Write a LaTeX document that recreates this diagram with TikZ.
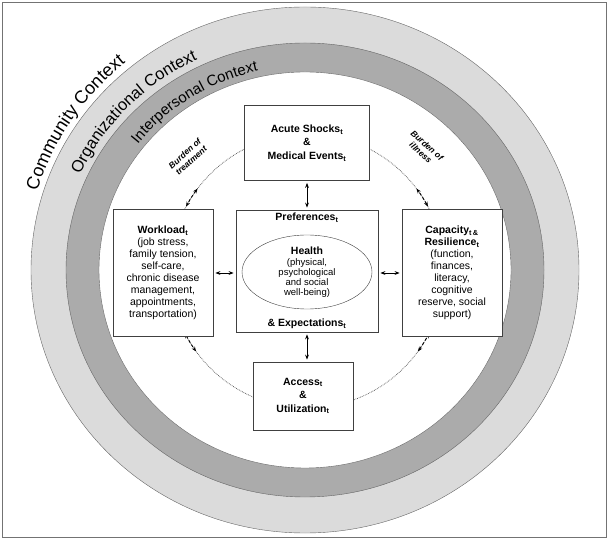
\documentclass[tikz,border=0pt]{standalone}
\usepackage{fontspec}
\setmainfont{Liberation Sans}
\usetikzlibrary{decorations.text,arrows.meta,shapes.geometric}
\begin{document}
\begin{tikzpicture}[x=1pt,y=1pt,
  box/.style={draw=black!75,fill=white,line width=0.7pt,align=center,font=\fontsize{10.5}{13.5}\selectfont},
  dbl/.style={{Stealth[length=5pt]}-{Stealth[length=5pt]},line width=0.9pt},
  dashdbl/.style={{Stealth[length=5pt]}-{Stealth[length=5pt]},line width=0.9pt,densely dashed},
  burden/.style={font=\bfseries\itshape\fontsize{8.5}{9.5}\selectfont,align=center}]
\useasboundingbox (0,0) rectangle (609,540);
\node[draw=black!55,line width=0.8pt,minimum width=604pt,minimum height=535pt] (frame) at (304.5,270) {};
\coordinate (c) at (305,270);
\fill[black!14,draw=black!60] (c) ellipse [x radius=274,y radius=263];
\fill[black!33,draw=black!60] (c) ellipse [x radius=239,y radius=227];
\fill[white,draw=black!60] (c) ellipse [x radius=206,y radius=198];
\path[decorate,decoration={text along path,text={|\fontsize{18}{18}\selectfont|Community Context},text align=left}]
  (c) ++(163:280 and 270) arc [start angle=163,end angle=90,x radius=280,y radius=270];
\path[decorate,decoration={text along path,text={|\fontsize{16.5}{16.5}\selectfont|Organizational Context},text align=left}]
  (c) ++(156:246 and 234) arc [start angle=156,end angle=60,x radius=246,y radius=234];
\path[decorate,decoration={text along path,text={|\fontsize{15}{15}\selectfont|Interpersonal Context},text align=left}]
  (c) ++(142:212 and 204) arc [start angle=142,end angle=50,x radius=212,y radius=204];
\coordinate (m) at (307,269);
\draw[black!70,densely dotted,line width=0.7pt] (m) circle [radius=137];
\draw[dashdbl] (m) ++(143:137) arc [start angle=143,end angle=152,radius=137];
\draw[dashdbl] (m) ++(28:137) arc [start angle=28,end angle=37,radius=137];
\draw[dashdbl] (m) ++(207:137) arc [start angle=207,end angle=216,radius=137];
\draw[dashdbl] (m) ++(324:137) arc [start angle=324,end angle=333,radius=137];
\node[burden,rotate=42] (bt) at (188,383) {Burden of\\treatment};
\node[burden,rotate=-42] (bi) at (424,391) {Burden of\\illness};
\node[box,minimum width=125pt,minimum height=75pt] (acute) at (307,397) {\textbf{Acute Shocks\textsubscript{t}}\\\textbf{\&}\\\textbf{Medical Events\textsubscript{t}}};
\node[box,minimum width=142pt,minimum height=122pt] (center) at (307,269) {};
\node[box,anchor=north,draw=none,fill=none] (pref) at (center.north) {\textbf{Preferences\textsubscript{t}}};
\node[box,anchor=south,draw=none,fill=none] (expe) at (center.south) {\textbf{\& Expectations\textsubscript{t}}};
\node[draw=black!75,fill=white,ellipse,minimum width=130pt,minimum height=74pt,inner sep=0pt,align=center,font=\fontsize{10.5}{12}\selectfont] (health) at (307,268) {\textbf{Health}\\[-1pt]{\fontsize{9.5}{11}\selectfont (physical,}\\[-2pt]{\fontsize{9.5}{11}\selectfont psychological}\\[-2pt]{\fontsize{9.5}{11}\selectfont and social}\\[-2pt]{\fontsize{9.5}{11}\selectfont well-being)}};
\node[box,minimum width=100pt,minimum height=127pt,inner sep=1pt] (work) at (163,267) {\textbf{Workload\textsubscript{t}}\\[-1.5pt](job stress,\\[-1.5pt]family tension,\\[-1.5pt]self-care,\\[-1.5pt]chronic disease\\[-1.5pt]management,\\[-1.5pt]appointments,\\[-1.5pt]transportation)};
\node[box,minimum width=100pt,minimum height=127pt,inner sep=1pt] (cap) at (452,267) {\textbf{Capacity\textsubscript{t\,\&}}\\[-1.5pt]\textbf{Resilience\textsubscript{t}}\\[-1.5pt](function,\\[-1.5pt]finances,\\[-1.5pt]literacy,\\[-1.5pt]cognitive\\[-1.5pt]reserve, social\\[-1.5pt]support)};
\node[box,minimum width=100pt,minimum height=68pt] (access) at (303,144) {\textbf{Access\textsubscript{t}}\\\textbf{\&}\\\textbf{Utilization\textsubscript{t}}};
\draw[dbl] ([yshift=-2pt]acute.south) -- ([yshift=2pt]center.north);
\draw[dbl] ([yshift=-2pt]center.south) -- ([yshift=2pt]center.south |- access.north);
\draw[dbl] ([xshift=2pt]work.east) -- ([xshift=-2pt]center.west |- work.east);
\draw[dbl] ([xshift=2pt]center.east |- cap.west) -- ([xshift=-2pt]cap.west);
\end{tikzpicture}
\end{document}
